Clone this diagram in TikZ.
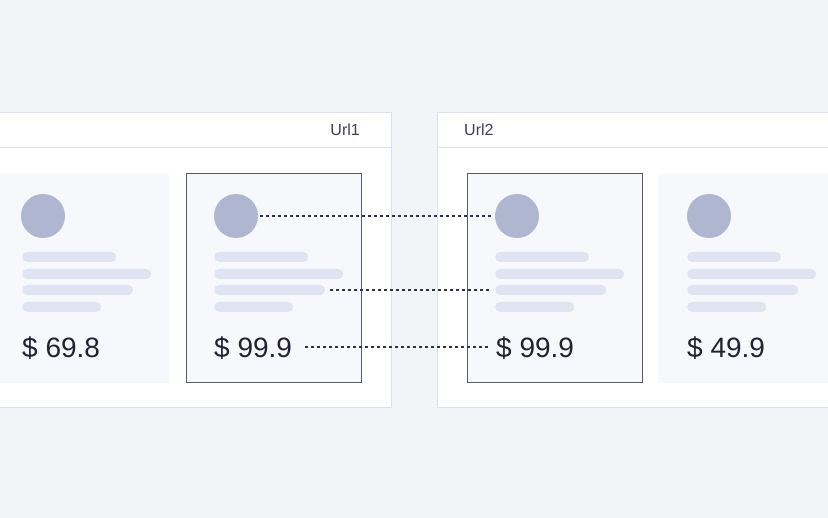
\documentclass[tikz,border=0pt]{standalone}
\usepackage{fontspec}
\setmainfont{Liberation Sans}
\definecolor{bgc}{HTML}{F3F4F8}
\definecolor{panelborder}{HTML}{DCDFEF}
\definecolor{cardfill}{HTML}{F7F8FC}
\definecolor{dotc}{HTML}{AFB6CF}
\definecolor{barc}{HTML}{E0E3F1}
\definecolor{ink}{HTML}{1F2333}
\definecolor{urlink}{HTML}{3C4050}
\definecolor{selc}{HTML}{555A6A}
\definecolor{linkc}{HTML}{2E3344}
\tikzset{
  panel/.style={draw=panelborder, line width=1pt, fill=white},
  card/.style={fill=cardfill},
  selcard/.style={draw=selc, line width=1pt, fill=cardfill},
  avatar/.style={circle, fill=dotc, minimum size=44pt, inner sep=0pt},
  bar/.style={rectangle, rounded corners=5pt, fill=barc, minimum height=10pt, inner sep=0pt, anchor=west},
  price/.style={font=\fontsize{28}{30}\selectfont, text=ink, inner sep=0pt, anchor=base west},
  urllabel/.style={font=\fontsize{16}{18}\selectfont, text=urlink, inner sep=0pt},
  link/.style={draw=linkc, line width=1.3pt, dash pattern=on 3pt off 3pt}
}
\begin{document}
\begin{tikzpicture}[x=1pt,y=-1pt]
\useasboundingbox (0,0) rectangle (828,518);
\clip (0,0) rectangle (828,518);
\fill[bgc] (0,0) rectangle (828,518);
% panels
\draw[panel] (-5,113) rectangle (391,408);
\draw[panelborder, line width=1pt] (-5,148) -- (391,148);
\draw[panel] (437,113) rectangle (835,408);
\draw[panelborder, line width=1pt] (437,148) -- (835,148);
\node[urllabel, anchor=base east] (u1) at (360,136) {Url1};
\node[urllabel, anchor=base west] (u2) at (464,136) {Url2};
% cards
\fill[card] (-5,174) rectangle (169,383);
\draw[selcard] (186,174) rectangle (361,383);
\draw[selcard] (467,174) rectangle (642,383);
\fill[card] (658,174) rectangle (835,383);
% avatars
\node[avatar] (a1) at (43,216) {};
\node[avatar] (a2) at (236,216) {};
\node[avatar] (a3) at (517,216) {};
\node[avatar] (a4) at (709,216) {};
% bars
\foreach \cx/\id in {22/1,214/2,495/3,687/4}{
  \node[bar, minimum width=94pt]  (b\id a) at (\cx,257) {};
  \node[bar, minimum width=129pt] (b\id b) at (\cx,274) {};
  \node[bar, minimum width=111pt] (b\id c) at (\cx,290) {};
  \node[bar, minimum width=79pt]  (b\id d) at (\cx,307) {};
}
% prices
\node[price] (p1) at (22,358) {\$ 69.8};
\node[price] (p2) at (214,358) {\$ 99.9};
\node[price] (p3) at (496,358) {\$ 99.9};
\node[price] (p4) at (687,358) {\$ 49.9};
% connectors
\draw[link, shorten <=2pt, shorten >=2pt] (a2.east) -- (a3.west);
\draw[link, shorten <=5pt, shorten >=5pt] (b2c.east) -- (b3c.west);
\draw[link] ([xshift=13pt]p2.east |- 0,347) coordinate (l3s) -- ([xshift=-6pt]p3.west |- 0,347) coordinate (l3e);
\end{tikzpicture}
\end{document}
